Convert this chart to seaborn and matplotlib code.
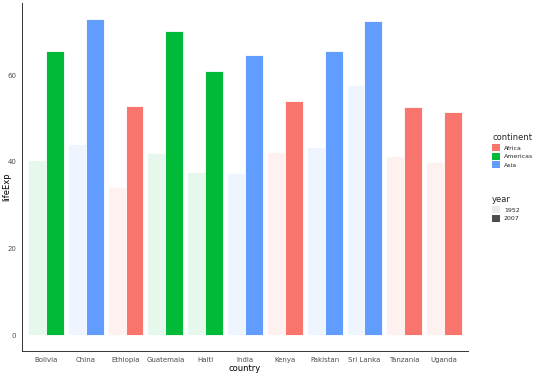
import matplotlib
matplotlib.use("Agg")
import matplotlib.pyplot as plt
import seaborn as sns
import pandas as pd
from matplotlib.patches import Patch
from matplotlib.colors import to_rgb

countries = ["Bolivia", "China", "Ethiopia", "Guatemala", "Haiti", "India",
             "Kenya", "Pakistan", "Sri Lanka", "Tanzania", "Uganda"]
continents = ["Americas", "Asia", "Africa", "Americas", "Americas", "Asia",
              "Africa", "Asia", "Asia", "Africa", "Africa"]
life_1952 = [40.414, 44.000, 34.078, 42.023, 37.579, 37.373,
             42.270, 43.436, 57.593, 41.215, 39.978]
life_2007 = [65.554, 72.961, 52.947, 70.259, 60.916, 64.698,
             54.110, 65.483, 72.396, 52.517, 51.542]
years = ["1952", "2007"]
continent_colors = {"Africa": "#F8766D", "Americas": "#00BA38", "Asia": "#619CFF"}
year_alpha = {"1952": 0.1, "2007": 1.0}

df = pd.DataFrame({
    "country": countries * 2,
    "continent": continents * 2,
    "year": ["1952"] * len(countries) + ["2007"] * len(countries),
    "lifeExp": life_1952 + life_2007,
})

sns.set_style("white")
plt.rcParams["font.family"] = ["DejaVu Sans"]

fig = plt.figure(figsize=(5.6, 3.73), dpi=100)
ax = fig.add_axes([22 / 560, 22 / 373, 446 / 560, 348 / 373])

sns.barplot(data=df, x="country", y="lifeExp", hue="year", order=countries,
            hue_order=years, width=0.9, errorbar=None, ax=ax,
            palette=["#cccccc", "#333333"], legend=False, saturation=1)

def blend(c, a):
    r, g, b = to_rgb(c)
    return (1 - a + a * r, 1 - a + a * g, 1 - a + a * b)

for yr, cont in zip(years, ax.containers):
    for cat, bar in zip(countries, cont):
        col = continent_colors[continents[countries.index(cat)]]
        bar.set_facecolor(blend(col, year_alpha[yr]))
        bar.set_edgecolor("white")
        bar.set_linewidth(0.6)

ax.set_xlim(-0.6, 10.6)
ax.set_ylim(-3.65, 76.61)
ax.set_yticks([0, 20, 40, 60])
ax.tick_params(axis="both", labelsize=5, colors="#333333", length=2, width=0.5, pad=2,
               labelcolor="#4D4D4D")
for s in ["top", "right"]:
    ax.spines[s].set_visible(False)
for s in ["left", "bottom"]:
    ax.spines[s].set_color("#333333")
    ax.spines[s].set_linewidth(0.7)
ax.set_xlabel("country", fontsize=6, labelpad=1, color="black")
ax.set_ylabel("lifeExp", fontsize=6, color="black")
ax.yaxis.set_label_coords(11 / 560, 0.5, transform=fig.transFigure)

h1 = [Patch(facecolor=continent_colors[c], edgecolor="none") for c in ["Africa", "Americas", "Asia"]]
leg1 = fig.legend(h1, ["Africa", "Americas", "Asia"], title="continent",
                  loc="upper left", bbox_to_anchor=(489 / 560, 1 - 130 / 373),
                  frameon=False, fontsize=4.5, title_fontsize=6, handlelength=1.3,
                  handleheight=1.3, labelspacing=0.3, handletextpad=0.6, borderpad=0)
leg1._legend_box.align = "left"
h2 = [Patch(facecolor="#EBEBEB", edgecolor="none"), Patch(facecolor="#4D4D4D", edgecolor="none")]
leg2 = fig.legend(h2, years, title="year",
                  loc="upper left", bbox_to_anchor=(489 / 560, 1 - 192 / 373),
                  frameon=False, fontsize=4.5, title_fontsize=6, handlelength=1.3,
                  handleheight=1.3, labelspacing=0.3, handletextpad=0.6, borderpad=0)
leg2._legend_box.align = "left"

fig.savefig("out.png", dpi=100, facecolor="white")
